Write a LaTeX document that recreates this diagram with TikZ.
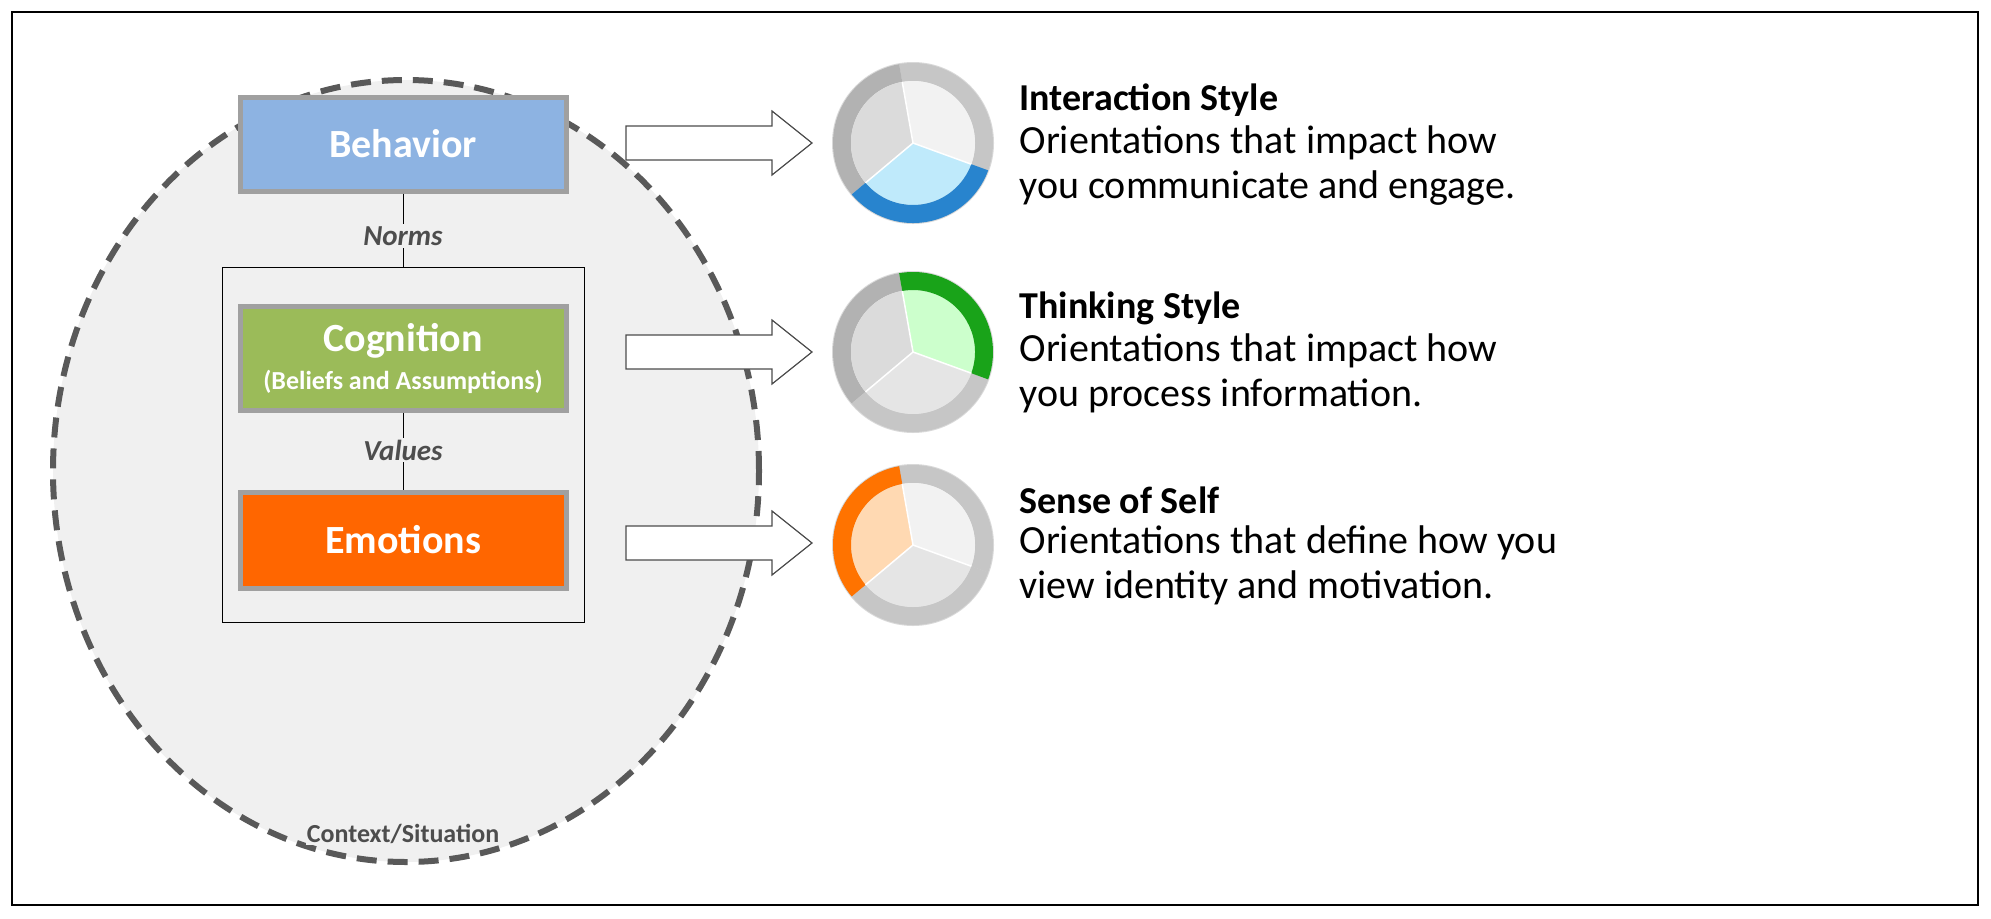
\documentclass[tikz,border=0pt]{standalone}
\usepackage{fontspec}
\setmainfont{Carlito}
\usetikzlibrary{shapes.geometric}
\definecolor{bg}{HTML}{F0F0F0}
\definecolor{dash}{HTML}{595959}
\definecolor{bblue}{HTML}{8DB3E2}
\definecolor{bgreen}{HTML}{9BBB59}
\definecolor{borange}{HTML}{FF6600}
\definecolor{bord}{HTML}{A0A0A0}
\definecolor{lbl}{HTML}{4D4D4D}
\tikzset{
 x=1pt,y=-1pt,
 box/.style={draw=bord,line width=5pt,minimum width=326pt,minimum height=94pt,text=white,font=\bfseries\fontsize{40}{42}\selectfont,align=center},
 rel/.style={font=\bfseries\itshape\fontsize{29}{31}\selectfont,text=lbl,fill=bg,inner sep=2pt},
 title/.style={anchor=west,font=\bfseries\fontsize{38}{40}\selectfont},
 body/.style={anchor=north west,font=\fontsize{40}{45}\selectfont,align=left},
 barrow/.style={draw=black!70,fill=white,line width=1.2pt}
}
\newcommand\myicon[4]{% center, start angle of highlight, ring color, light color
 \begin{scope}[shift={#1},yscale=-1]
  \fill[gray!30] (0,0) circle (81);
  \foreach \a/\c in {100/gray!45,220/gray!60,340/gray!45}{
   \fill[\c] (\a:80) arc[start angle=\a,end angle=\a-120,radius=80] -- (\a-120:62) arc[start angle=\a-120,end angle=\a,radius=62] -- cycle;}
  \fill[gray!20] (0,0) circle (62);
  \fill[gray!10] (0,0) -- (100:62) arc[start angle=100,end angle=-20,radius=62] -- cycle;
  \fill[gray!28] (0,0) -- (220:62) arc[start angle=220,end angle=100,radius=62] -- cycle;
  \fill[#4] (0,0) -- (#2:62) arc[start angle=#2,end angle=#2-120,radius=62] -- cycle;
  \fill[#3] (#2:80) arc[start angle=#2,end angle=#2-120,radius=80] -- (#2-120:62) arc[start angle=#2-120,end angle=#2,radius=62] -- cycle;
  \draw[white,line width=1.5pt] (0,0) -- (100:62) (0,0) -- (-20:62) (0,0) -- (220:62);
 \end{scope}}
\begin{document}
\begin{tikzpicture}
\useasboundingbox (0,0) rectangle (1991,918);
\draw[line width=2.5pt] (12,12) rectangle (1978,905);
\node[ellipse,draw=dash,fill=bg,line width=6pt,dash pattern=on 20pt off 11pt,minimum width=706pt,minimum height=782pt] (ctx) at (406,471) {};
\node[draw=black,line width=1pt,minimum width=362pt,minimum height=355pt] (inner) at (403,444.5) {};
\node[box,fill=bblue] (beh) at (403,144) {Behavior};
\node[box,fill=bgreen,minimum height=104pt] (cog) at (403,358) {Cognition\\[-4pt]{\fontsize{26}{28}\selectfont(Beliefs and Assumptions)}};
\node[box,fill=borange,minimum height=96pt] (emo) at (403,540) {Emotions};
\draw[line width=1pt] (beh.south) -- (inner.north);
\draw[line width=1pt] (cog.south) -- (emo.north);
\node[rel] (norms) at (403,236) {Norms};
\node[rel] (values) at (403,450) {Values};
\node[font=\bfseries\fontsize{26}{28}\selectfont,text=lbl,fill=bg,inner sep=1pt] (ctxl) at (403,834) {Context/Situation};
\foreach \n/\y in {a1/143,a2/352,a3/543}{
 \draw[barrow] (626,\y-17) -- (772,\y-17) -- (772,\y-32) -- (812,\y) -- (772,\y+32) -- (772,\y+17) -- (626,\y+17) -- cycle;
 \coordinate (\n) at (812,\y);}
\myicon{(913,143)}{-20}{cyan!60!blue!90}{cyan!25}
\myicon{(913,352)}{100}{green!60!black!90}{green!20!white}
\myicon{(913,545)}{220}{orange!90!red}{orange!30}
\node[title] (t1) at (1016,100) {Interaction Style};
\node[body] (b1) at (1016,122) {Orientations that impact how\\you communicate and engage.};
\node[title] (t2) at (1016,308) {Thinking Style};
\node[body] (b2) at (1016,330) {Orientations that impact how\\you process information.};
\node[title] (t3) at (1016,500) {Sense of Self};
\node[body] (b3) at (1016,522) {Orientations that define how you\\view identity and motivation.};
\end{tikzpicture}
\end{document}
